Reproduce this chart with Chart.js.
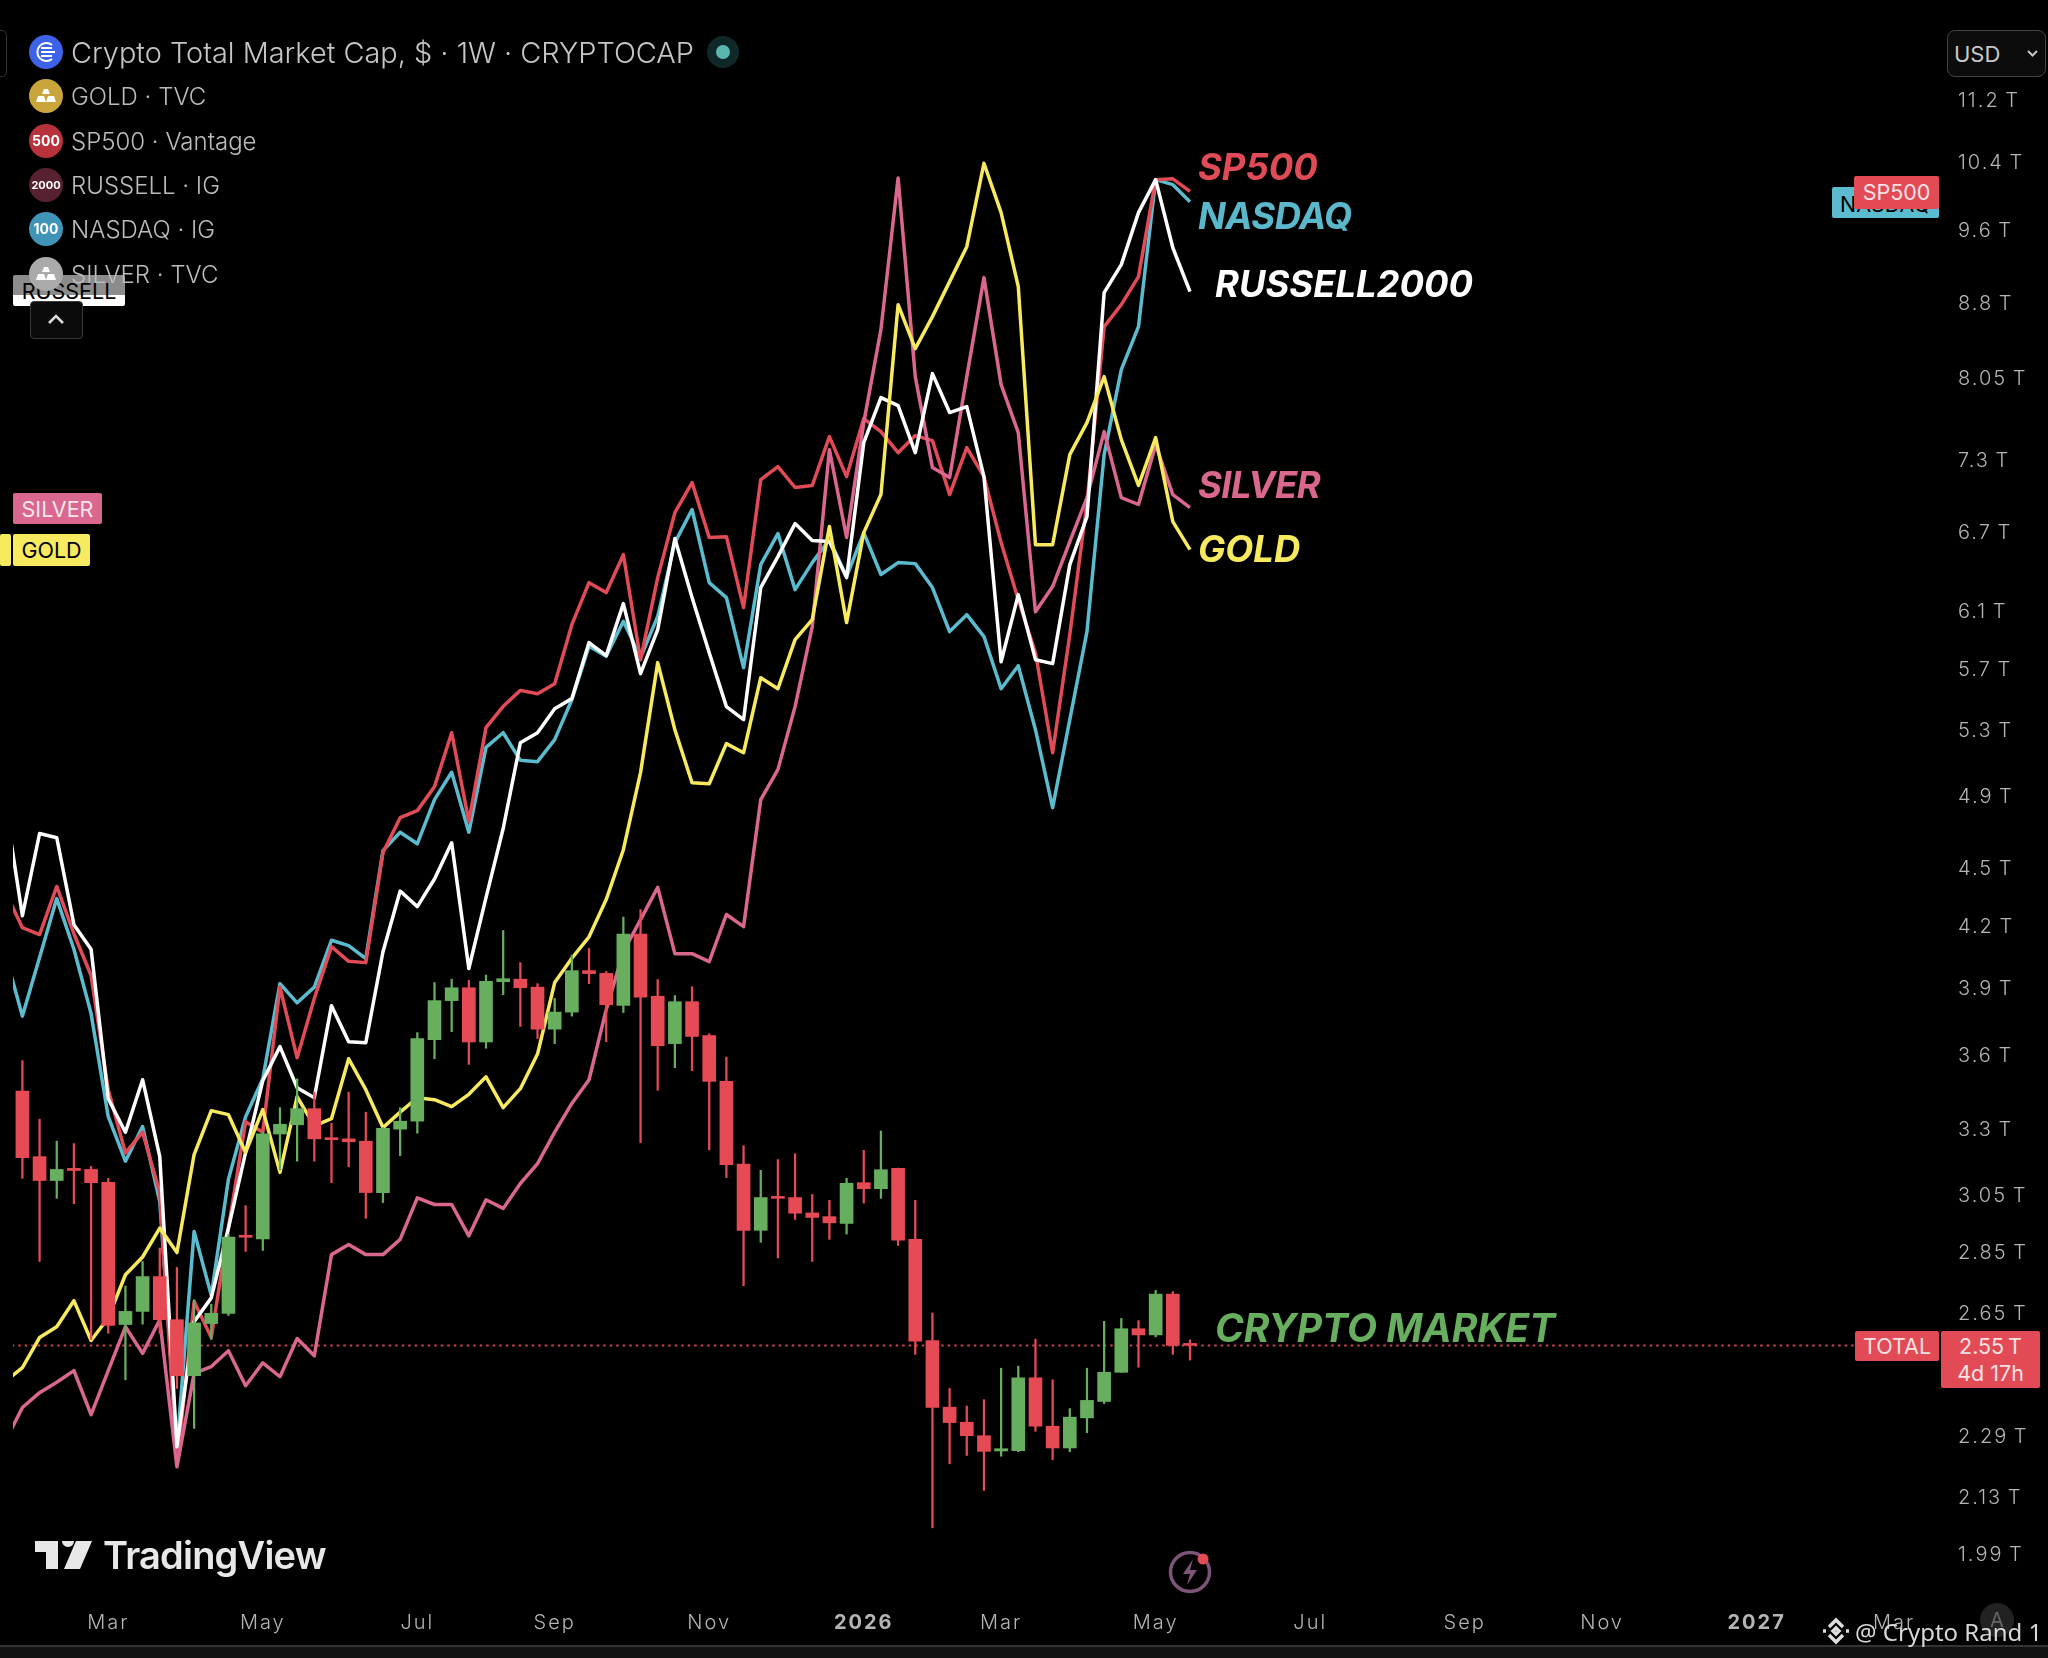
<!DOCTYPE html>
<html>
<head>
<meta charset="utf-8">
<title>Crypto Total Market Cap</title>
<script src="https://cdn.jsdelivr.net/npm/chart.js@4/dist/chart.umd.min.js"></script>
<style>
html, body { margin: 0; padding: 0; background: #000; }
#wrap { position: relative; width: 2048px; height: 1658px; overflow: hidden; background: #000; font-family: Inter, Roboto, sans-serif; }
#grafico { position: absolute; left: 0; top: 0; }
.t { position: absolute; white-space: nowrap; line-height: 1; transform: translateY(-50%); }
.leg { left: 71px; font-size: 24px; color: #bcbcbc; font-weight: 300; }
.ico { position: absolute; left: 29px; width: 34px; height: 34px; border-radius: 50%; transform: translateY(-50%); color: #fff; font-weight: 700; text-align: center; line-height: 34px; }
.ico svg { position: absolute; left: 0; top: 0; }
.tag { position: absolute; box-sizing: border-box; border-radius: 2px; font-size: 21.5px; text-align: center; }
.nota { font-size: 36.4px; font-weight: 700; font-style: italic; }
</style>
</head>
<body>
<div id="wrap">
    <canvas id="grafico" width="2048" height="1658"></canvas>

    <!-- leyenda arriba a la izquierda -->
    <div style="position:absolute;left:-6px;top:30px;width:11px;height:45px;border:1px solid #333;border-radius:5px"></div>
    <div class="ico" style="top:52px;background:#3d63ea">
        <svg width="34" height="34" fill="none" stroke="#fff" stroke-width="2"><path d="M23 10a9 9 0 1 0 0 14M12 13h11M12 17h14M12 21h11"/></svg>
    </div>
    <div class="t" style="left:71px;top:53px;font-size:28.9px;font-weight:300;color:#c6c6c6">Crypto Total Market Cap, $ · 1W · CRYPTOCAP</div>
    <div style="position:absolute;left:707px;top:36px;width:32px;height:32px;border-radius:50%;background:#10282a"></div>
    <div style="position:absolute;left:716px;top:45px;width:14px;height:14px;border-radius:50%;background:#5bb6ae"></div>

    <div class="ico" style="top:96px;background:#c9a53c">
        <svg width="34" height="34" fill="#fff"><path d="M13 15l2-5h4l2 5zM7 23l2-6h6l2 6zM17 23l2-6h6l2 6z"/></svg>
    </div>
    <div class="t leg" style="top:97px">GOLD · TVC</div>
    <div class="ico" style="top:141px;background:#b8323c;font-size:14px">500</div>
    <div class="t leg" style="top:142px">SP500 · Vantage</div>
    <div class="ico" style="top:185px;background:#57222f;font-size:11px">2000</div>
    <div class="t leg" style="top:186px">RUSSELL · IG</div>
    <div class="ico" style="top:229px;background:#3f94b8;font-size:14px">100</div>
    <div class="t leg" style="top:230px">NASDAQ · IG</div>

    <div class="tag" style="left:13px;top:275px;width:112px;height:31px;background:#fff;color:#000;line-height:33px">RUSSELL</div>
    <div style="position:absolute;left:13px;top:275px;width:112px;height:20px;background:rgba(0,0,0,.45)"></div>
    <div class="ico" style="top:274px;background:#aaa">
        <svg width="34" height="34" fill="#fff"><path d="M13 15l2-5h4l2 5zM7 23l2-6h6l2 6zM17 23l2-6h6l2 6z"/></svg>
    </div>
    <div class="t leg" style="top:275px">SILVER · TVC</div>
    <div style="position:absolute;left:30px;top:301px;width:53px;height:38px;box-sizing:border-box;border:1px solid #3a3a3a;border-radius:4px;background:#0a0a0a"></div>
    <svg style="position:absolute;left:46px;top:312px" width="20" height="14" fill="none" stroke="#ddd" stroke-width="2.5"><path d="M3 11l7-7 7 7"/></svg>

    <div class="tag" style="left:13px;top:493px;width:89px;height:31px;background:#d9678f;color:#f6e6ec;line-height:32px">SILVER</div>
    <div class="tag" style="left:0;top:534px;width:11px;height:32px;background:#f7ea5f"></div>
    <div class="tag" style="left:13px;top:534px;width:77px;height:32px;background:#f7ea5f;color:#000;line-height:33px">GOLD</div>

    <!-- etiquetas a la derecha -->
    <div style="position:absolute;left:1947px;top:30px;width:99px;height:47px;box-sizing:border-box;border:1.5px solid #444;border-radius:8px;background:#0c0c0c"></div>
    <div class="t" style="left:1954px;top:54px;font-size:22px;color:#c8c8c8">USD</div>
    <svg style="position:absolute;left:2026px;top:49px" width="13" height="9" fill="none" stroke="#c8c8c8" stroke-width="2"><path d="M2 2l4.5 4.5L11 2"/></svg>
    <div class="tag" style="left:1832px;top:187px;width:107px;height:31px;background:#5bbccf;color:#000;text-align:left;padding-left:8px;line-height:34px">NASDAQ</div>
    <div class="tag" style="left:1854px;top:176px;width:85px;height:33px;background:#e24a55;color:#f8e2e4;line-height:33px">SP500</div>
    <div class="tag" style="left:1855px;top:1331px;width:84px;height:30px;background:#e24a55;color:#f8e2e4;line-height:31px">TOTAL</div>
    <div class="tag" style="left:1941px;top:1331px;width:99px;height:57px;background:#e24a55;color:#f8e2e4;line-height:27px;padding-top:2px">2.55&#8201;T<br>4d 17h</div>

    <!-- notas sobre las lineas -->
    <div class="t nota" style="left:1198px;top:167px;color:#e04b57">SP500</div>
    <div class="t nota" style="left:1198px;top:216px;color:#5bb8cc;letter-spacing:-.5px">NASDAQ</div>
    <div class="t nota" style="left:1215px;top:284px;color:#fff">RUSSELL2000</div>
    <div class="t nota" style="left:1198px;top:485px;color:#d9678f;letter-spacing:-.5px">SILVER</div>
    <div class="t nota" style="left:1198px;top:549px;color:#f7ea5f">GOLD</div>
    <div class="t nota" style="left:1215px;top:1327px;color:#67ae5f;font-size:39px">CRYPTO MARKET</div>

    <!-- logo y botones abajo -->
    <svg style="position:absolute;left:35px;top:1541px" width="57" height="28" fill="#e8e8e8"><path d="M0 0h23v28H11V11H0zM27 0a6 6 0 1 1 0 .1zM41 0h16L45 28H29z"/></svg>
    <div class="t" style="left:103px;top:1555px;font-size:38px;font-weight:600;color:#e8e8e8;letter-spacing:-.8px">TradingView</div>
    <svg style="position:absolute;left:1166px;top:1544px" width="48" height="50" fill="none"><circle cx="24" cy="28" r="19.5" stroke="#7d5578" stroke-width="3.5"/><path d="M27 15l-10 15h7l-3 11 10-15h-7z" fill="#7d5578"/><circle cx="37" cy="15" r="5.5" fill="#e24a55"/></svg>
    <div style="position:absolute;left:1980px;top:1603px;width:34px;height:34px;border-radius:50%;background:#222;color:#666;font-size:20px;text-align:center;line-height:34px">A</div>
    <div style="position:absolute;left:0;top:1645px;width:2048px;height:2px;background:#333"></div>
    <div style="position:absolute;left:0;top:1647px;width:2048px;height:11px;background:#121212"></div>
    <svg style="position:absolute;left:1822px;top:1617px" width="28" height="28" fill="none" stroke="#ddd" stroke-width="3.5"><path d="M7 10l7-7 7 7M7 18l7 7 7-7M1 14h3M24 14h3M11 14l3-3 3 3-3 3z"/></svg>
    <div class="t" style="left:1855px;top:1632px;font-family:'Noto Sans','Open Sans',sans-serif;font-size:24px;color:#d8d8d8">@ Crypto Rand 1</div>
</div>

<script>
// Valores en billones (T), una semana por posicion. El primer punto de cada linea es la semana -1
const gold = [2.439, 2.480, 2.570, 2.603, 2.685, 2.561, 2.631, 2.769, 2.828, 2.927, 2.843, 3.194, 3.365, 3.349, 3.202, 3.369, 3.127, 3.421, 3.305, 3.333, 3.579, 3.450, 3.298, 3.359, 3.417, 3.409, 3.381, 3.431, 3.503, 3.377, 3.454, 3.599, 3.918, 4.033, 4.137, 4.324, 4.588, 5.028, 5.730, 5.291, 4.968, 4.962, 5.204, 5.148, 5.628, 5.555, 5.889, 6.030, 6.735, 6.009, 6.687, 6.996, 8.767, 8.320, 8.643, 9.010, 9.392, 10.37, 9.780, 8.957, 6.592, 6.592, 7.336, 7.620, 8.048, 7.468, 7.072, 7.486, 6.775, 6.553];
const sp500 = [4.366, 4.182, 4.148, 4.392, 4.152, 3.951, 3.450, 3.200, 3.280, 3.053, 2.209, 2.682, 2.570, 2.927, 3.321, 3.280, 3.897, 3.583, 3.845, 4.089, 4.018, 4.012, 4.572, 4.766, 4.806, 4.945, 5.272, 4.745, 5.304, 5.440, 5.544, 5.522, 5.588, 5.994, 6.301, 6.227, 6.514, 5.750, 6.339, 6.848, 7.097, 6.648, 6.655, 6.117, 7.122, 7.233, 7.055, 7.072, 7.495, 7.147, 7.657, 7.539, 7.353, 7.504, 7.459, 6.996, 7.397, 7.147, 6.608, 6.175, 5.798, 5.148, 5.924, 6.930, 8.541, 8.767, 9.064, 10.17, 10.18, 10.03];
const russell = [4.846, 4.242, 4.677, 4.654, 4.197, 4.076, 3.413, 3.280, 3.491, 3.186, 2.257, 2.619, 2.694, 2.927, 3.202, 3.487, 3.631, 3.458, 3.417, 3.812, 3.652, 3.648, 4.064, 4.368, 4.288, 4.431, 4.626, 3.984, 4.334, 4.705, 5.210, 5.272, 5.425, 5.490, 5.868, 5.778, 6.146, 5.655, 5.959, 6.640, 6.190, 5.798, 5.438, 5.355, 6.264, 6.499, 6.759, 6.624, 6.616, 6.339, 7.441, 7.850, 7.776, 7.353, 8.077, 7.712, 7.767, 7.147, 5.736, 6.212, 5.750, 5.723, 6.437, 6.815, 8.893, 9.194, 9.780, 10.17, 9.380, 8.904];
const nasdaq = [4.055, 3.765, 4.036, 4.329, 4.076, 3.776, 3.341, 3.169, 3.302, 3.020, 2.257, 2.915, 2.702, 3.102, 3.341, 3.495, 3.913, 3.825, 3.897, 4.120, 4.094, 4.031, 4.583, 4.684, 4.621, 4.869, 5.030, 4.684, 5.181, 5.272, 5.102, 5.094, 5.229, 5.483, 5.842, 5.773, 6.018, 5.764, 6.054, 6.608, 6.873, 6.301, 6.190, 5.696, 6.437, 6.679, 6.249, 6.453, 6.632, 6.347, 6.687, 6.362, 6.453, 6.445, 6.264, 5.945, 6.066, 5.910, 5.555, 5.709, 5.291, 4.823, 5.355, 5.945, 7.336, 8.115, 8.541, 10.17, 10.11, 9.908];
const silver = [2.271, 2.365, 2.407, 2.437, 2.471, 2.345, 2.471, 2.603, 2.522, 2.625, 2.204, 2.463, 2.483, 2.530, 2.427, 2.494, 2.453, 2.567, 2.515, 2.836, 2.870, 2.836, 2.836, 2.888, 3.034, 3.010, 3.010, 2.900, 3.027, 2.996, 3.086, 3.160, 3.280, 3.394, 3.491, 3.794, 4.064, 4.222, 4.387, 4.055, 4.055, 4.017, 4.248, 4.187, 4.869, 5.046, 5.438, 5.980, 7.379, 6.648, 7.620, 8.510, 10.19, 8.048, 7.224, 7.139, 8.048, 9.053, 7.972, 7.530, 6.087, 6.272, 6.616, 6.971, 7.539, 6.971, 6.914, 7.423, 6.996, 6.889];

// Velas semanales de TOTAL, empiezan en la semana 0
const velaOpen = [3.444, 3.186, 3.097, 3.142, 3.138, 3.090, 2.610, 2.651, 2.763, 2.625, 2.456, 2.613, 2.645, 2.902, 2.889, 3.273, 3.309, 3.373, 3.257, 3.254, 3.245, 3.053, 3.292, 3.323, 3.661, 3.835, 3.894, 3.651, 3.922, 3.934, 3.897, 3.707, 3.783, 3.974, 3.961, 3.813, 4.150, 3.855, 3.644, 3.830, 3.679, 3.484, 3.158, 2.919, 3.038, 3.035, 2.980, 2.967, 2.943, 3.089, 3.067, 3.142, 2.888, 2.561, 2.366, 2.324, 2.287, 2.246, 2.247, 2.450, 2.313, 2.254, 2.336, 2.382, 2.466, 2.597, 2.578, 2.706, 2.550];
const velaClose = [3.182, 3.097, 3.138, 3.134, 3.089, 2.607, 2.651, 2.763, 2.625, 2.456, 2.615, 2.645, 2.896, 2.895, 3.274, 3.311, 3.373, 3.254, 3.251, 3.243, 3.053, 3.295, 3.323, 3.666, 3.835, 3.894, 3.651, 3.924, 3.936, 3.894, 3.707, 3.783, 3.974, 3.960, 3.816, 4.150, 3.851, 3.635, 3.830, 3.675, 3.484, 3.156, 2.919, 3.035, 3.032, 2.979, 2.964, 2.945, 3.087, 3.067, 3.137, 2.885, 2.559, 2.365, 2.323, 2.287, 2.245, 2.252, 2.450, 2.313, 2.254, 2.338, 2.385, 2.466, 2.597, 2.578, 2.706, 2.546, 2.546];
const velaHigh = [3.571, 3.331, 3.245, 3.236, 3.149, 3.105, 2.732, 2.813, 2.858, 2.793, 2.688, 2.674, 2.905, 3.006, 3.280, 3.377, 3.495, 3.440, 3.315, 3.440, 3.359, 3.298, 3.377, 3.692, 3.918, 3.934, 3.928, 3.953, 4.168, 4.012, 3.913, 3.845, 4.048, 4.080, 3.970, 4.235, 4.273, 3.932, 3.858, 3.899, 3.687, 3.586, 3.228, 3.135, 3.175, 3.197, 3.046, 3.025, 3.105, 3.210, 3.285, 3.143, 3.025, 2.646, 2.419, 2.369, 2.387, 2.478, 2.484, 2.565, 2.444, 2.362, 2.478, 2.620, 2.629, 2.622, 2.718, 2.714, 2.563];
const velaLow = [3.105, 2.813, 3.032, 3.013, 2.564, 2.583, 2.444, 2.611, 2.583, 2.419, 2.307, 2.564, 2.638, 2.847, 2.850, 3.136, 3.169, 3.169, 3.089, 3.148, 2.961, 3.017, 3.190, 3.276, 3.579, 3.696, 3.555, 3.624, 3.862, 3.719, 3.666, 3.644, 3.765, 3.913, 3.652, 3.781, 3.239, 3.447, 3.541, 3.529, 3.212, 3.108, 2.733, 2.878, 2.825, 2.957, 2.813, 2.888, 2.906, 3.015, 3.032, 2.867, 2.519, 2.050, 2.212, 2.234, 2.143, 2.232, 2.244, 2.299, 2.223, 2.244, 2.295, 2.376, 2.466, 2.481, 2.572, 2.519, 2.502];

const precioActual = 2.546;

// Ejes
const yTicks = [11.2, 10.4, 9.6, 8.8, 8.05, 7.3, 6.7, 6.1, 5.7, 5.3, 4.9, 4.5, 4.2, 3.9, 3.6, 3.3, 3.05, 2.85, 2.65, 2.29, 2.13, 1.99];
const yLabels = ['11.2', '10.4', '9.6', '8.8', '8.05', '7.3', '6.7', '6.1', '5.7', '5.3', '4.9', '4.5', '4.2', '3.9', '3.6', '3.3', '3.05', '2.85', '2.65', '2.29', '2.13', '1.99'];
const xTicks = [5, 14, 23, 31, 40, 49, 57, 66, 75, 84, 92, 101, 109];
const xLabels = ['Mar', 'May', 'Jul', 'Sep', 'Nov', '2026', 'Mar', 'May', 'Jul', 'Sep', 'Nov', '2027', 'Mar'];

const ROJO = '#e54a55';
const VERDE = '#67ae5f';

function puntos(serie) {
    return serie.map((v, i) => ({ x: i - 1, y: v }));
}

function linea(serie, color, orden) {
    return {
        type: 'line',
        data: puntos(serie),
        borderColor: color,
        borderWidth: 3.5,
        borderJoinStyle: 'round',
        pointRadius: 0,
        tension: 0,
        clip: 0,
        order: orden
    };
}

const coloresVela = velaOpen.map((o, i) => (velaClose[i] >= o ? VERDE : ROJO));

// Los numeros de los ejes van mas separados que el texto normal del canvas
const espaciado = {
    id: 'espaciado',
    beforeDraw(chart) { chart.ctx.letterSpacing = '2px'; }
};

new Chart(document.getElementById('grafico').getContext('2d'), {
    type: 'bar',
    plugins: [espaciado],
    data: {
        datasets: [
            {
                // cuerpos
                data: velaOpen.map((o, i) => ({ x: i, y: [o, velaClose[i]] })),
                backgroundColor: coloresVela,
                barThickness: 13,
                minBarLength: 2,
                grouped: false,
                order: 0
            },
            {
                // mechas
                data: velaLow.map((l, i) => ({ x: i, y: [l, velaHigh[i]] })),
                backgroundColor: coloresVela,
                barThickness: 1.6,
                grouped: false,
                order: 1
            },
            linea(gold, '#f7ea5f', 2),
            linea(russell, '#ffffff', 3),
            linea(silver, '#d9678f', 4),
            linea(sp500, '#e04b57', 5),
            linea(nasdaq, '#5bbccf', 6),
            {
                // precio actual, linea punteada
                type: 'line',
                data: [{ x: -1, y: precioActual }, { x: 112, y: precioActual }],
                borderColor: '#c8454e',
                borderWidth: 2,
                borderDash: [2.5, 4],
                pointRadius: 0,
                order: 7
            }
        ]
    },
    options: {
        responsive: false,
        animation: false,
        events: [],
        layout: { autoPadding: false, padding: { left: 13, top: 0, right: 0, bottom: 0 } },
        plugins: { legend: { display: false }, tooltip: { enabled: false } },
        scales: {
            x: {
                type: 'linear',
                offset: false,
                min: -0.5475,
                max: 111.68,
                grid: { display: false, drawTicks: false },
                border: { display: false },
                afterFit: (scale) => { scale.height = 68; scale.paddingLeft = 0; scale.paddingRight = 0; },
                afterBuildTicks: (scale) => { scale.ticks = xTicks.map((v) => ({ value: v })); },
                ticks: {
                    autoSkip: false,
                    maxRotation: 0,
                    padding: 21,
                    color: '#b5b5b5',
                    font: (ctx) => {
                        const idx = xTicks.indexOf(ctx.tick ? ctx.tick.value : -1);
                        const esAnio = idx >= 0 && xLabels[idx].startsWith('20');
                        return { family: 'Inter', size: 20, weight: esAnio ? '700' : '300' };
                    },
                    callback: (v) => xLabels[xTicks.indexOf(v)]
                }
            },
            y: {
                type: 'logarithmic',
                position: 'right',
                bounds: 'data',
                min: 1.904,
                max: 12.59,
                grid: { display: false, drawTicks: false },
                border: { display: false },
                afterFit: (scale) => { scale.width = 108; scale.paddingTop = 0; scale.paddingBottom = 0; },
                afterBuildTicks: (scale) => { scale.ticks = yTicks.map((v) => ({ value: v })); },
                ticks: {
                    autoSkip: false,
                    padding: 18,
                    labelOffset: 2.5,
                    color: '#b5b5b5',
                    font: { family: 'Inter', size: 20, weight: '300' },
                    callback: (v) => yLabels[yTicks.indexOf(v)] + '\u2009T'
                }
            }
        }
    }
});
</script>
</body>
</html>
